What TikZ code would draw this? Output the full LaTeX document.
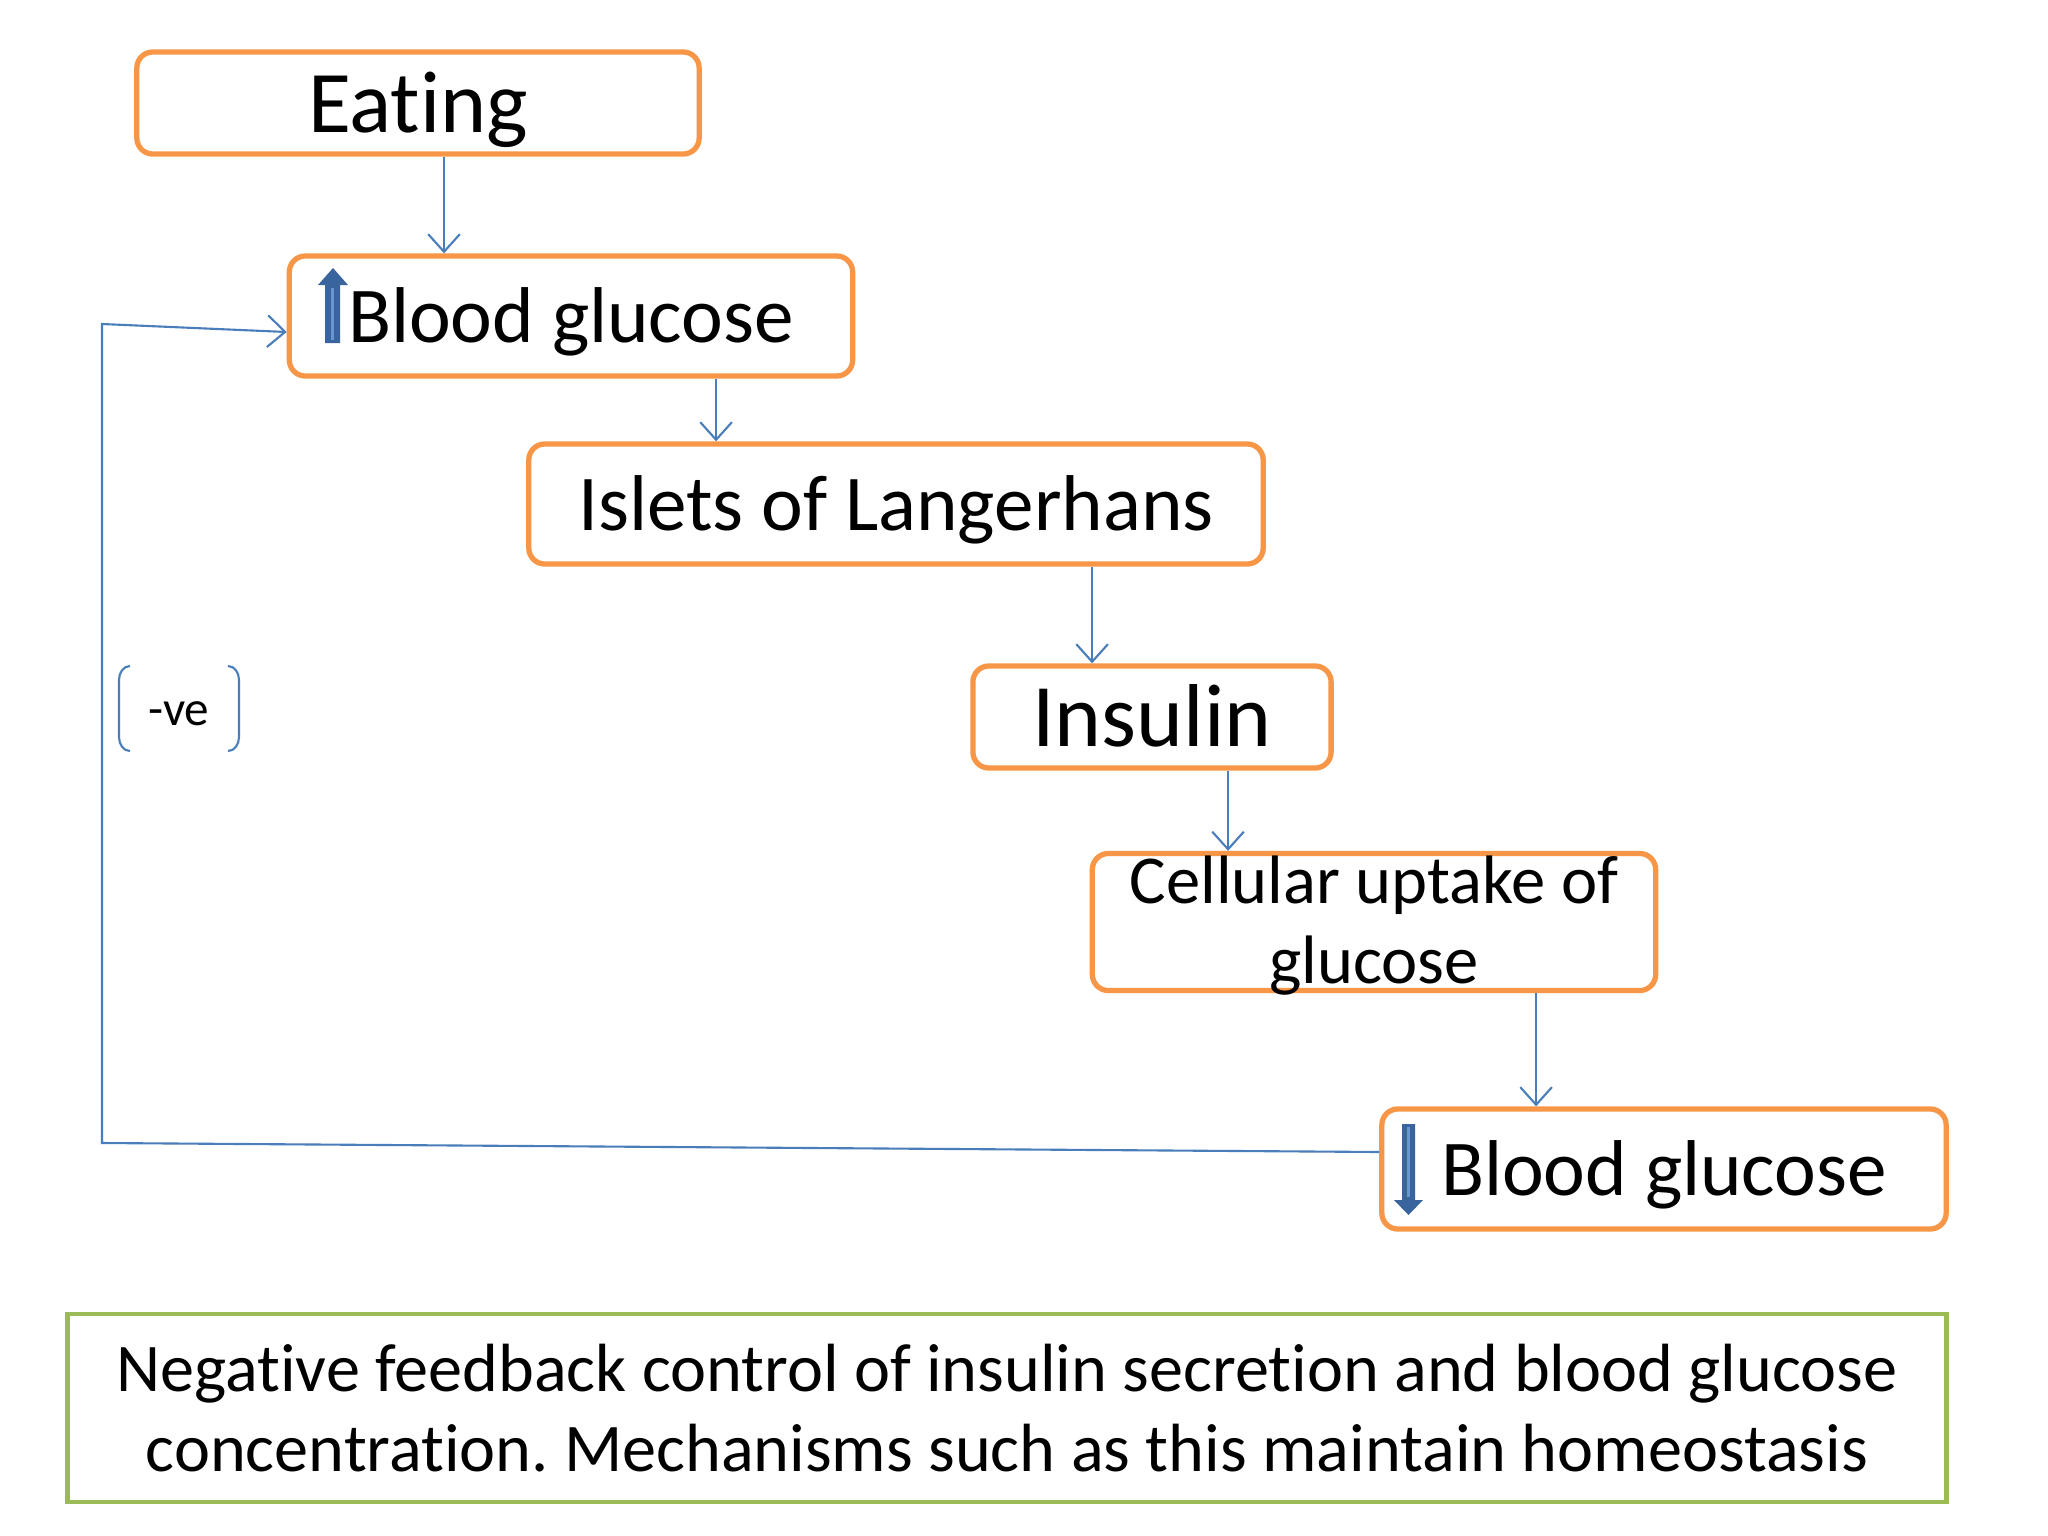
\documentclass[tikz,border=0pt]{standalone}
\usepackage{fontspec}
\setmainfont{Carlito}[Ligatures={NoCommon}]
\usepackage{xcolor}
\usepackage{tikz}
\usetikzlibrary{arrows.meta, positioning, calc}
\definecolor{boxorange}{RGB}{247, 150, 70}
\definecolor{linkblue}{RGB}{74, 126, 187}
\definecolor{capgreen}{RGB}{155, 187, 89}
\definecolor{arrowdark}{RGB}{58, 100, 158}
\definecolor{arrowlight}{RGB}{105, 150, 210}
\frenchspacing

\tikzset{
  flowbox/.style={draw=boxorange, line width=1.5pt, rounded corners=0.16cm, inner sep=0pt, align=center},
  bigtext/.style={font=\fontsize{25}{30}\selectfont, text height=17pt, text depth=0pt},
  midtext/.style={font=\fontsize{22.5}{27}\selectfont, text height=15.3pt, text depth=0pt},
  link/.style={draw=linkblue, line width=0.6pt, -{Straight Barb[length=5pt, width=9pt]}},
  bracket/.style={draw=linkblue, line width=0.6pt}
}

\begin{document}
\begin{tikzpicture}[x=0.01cm, y=-0.01cm]
    \useasboundingbox (0,0) rectangle (2048,1536);
    \fill[white] (0,0) rectangle (2048,1536);

    % Boxes of the chain
    \node[flowbox, bigtext, minimum width=5.62cm, minimum height=1.02cm] (eat) at (418,103) {Eating};
    \node[flowbox, midtext, minimum width=5.63cm, minimum height=1.20cm] (up) at (571,316) {Blood glucose};
    \node[flowbox, midtext, minimum width=7.34cm, minimum height=1.20cm] (isl) at (896,504) {Islets of Langerhans};
    \node[flowbox, bigtext, minimum width=3.58cm, minimum height=1.02cm, font=\fontsize{25.4}{30}\selectfont] (ins) at (1152,717) {Insulin};
    \node[flowbox, minimum width=5.63cm, minimum height=1.37cm, font=\fontsize{19.5}{22.5}\selectfont, text height=34.7pt, text depth=0pt] (cell) at (1374,922) {Cellular uptake of\\glucose};
    \node[flowbox, midtext, minimum width=5.64cm, minimum height=1.20cm] (down) at (1664,1169) {Blood glucose};

    % Caption box
    \node[draw=capgreen, line width=1.3pt, minimum width=18.78cm, minimum height=1.88cm, align=center, font=\fontsize{19.4}{22.8}\selectfont] (cap) at (1007,1408) {Negative feedback control of insulin secretion and blood glucose\\concentration. Mechanisms such as this maintain homeostasis};

    % Block arrows
    \fill[arrowdark] (325,343) -- (325,285) -- (318,285) -- (333,268) -- (348,285) -- (340,285) -- (340,343) -- cycle;
    \draw[arrowlight, line width=0.8pt] (332.5,288) -- (332.5,340);
    \fill[arrowdark] (1402,1124) -- (1402,1200) -- (1394,1200) -- (1408.5,1215) -- (1423,1200) -- (1415,1200) -- (1415,1124) -- cycle;
    \draw[arrowlight, line width=0.8pt] (1408.5,1127) -- (1408.5,1197);

    % Links
    \draw[link] ([xshift=0.26cm]eat.south) -- ([xshift=0.26cm]eat.south |- up.north);
    \draw[link] ([xshift=1.45cm]up.south) -- ([xshift=1.45cm]up.south |- isl.north);
    \draw[link] ([xshift=1.96cm]isl.south) -- ([xshift=1.96cm]isl.south |- ins.north);
    \draw[link] ([xshift=0.76cm]ins.south) -- ([xshift=0.76cm]ins.south |- cell.north);
    \draw[link] ([xshift=1.62cm]cell.south) -- ([xshift=1.62cm]cell.south |- down.north);

    % Feedback loop
    \coordinate (fbl) at (102,1143);
    \coordinate (fbt) at (102,324);
    \draw[link] ([yshift=0.17cm]down.west) -- (fbl) -- (fbt) -- ([yshift=-0.16cm]up.west);

    % -ve label
    \node[font=\fontsize{14}{17}\selectfont] (neg) at (179,714) {-ve};
    \draw[bracket] (130,666) to[out=180, in=90] (119,680) -- (119,737) to[out=-90, in=180] (130,751);
    \draw[bracket] (228,666) to[out=0, in=90] (239,680) -- (239,737) to[out=-90, in=0] (228,751);
\end{tikzpicture}
\end{document}
